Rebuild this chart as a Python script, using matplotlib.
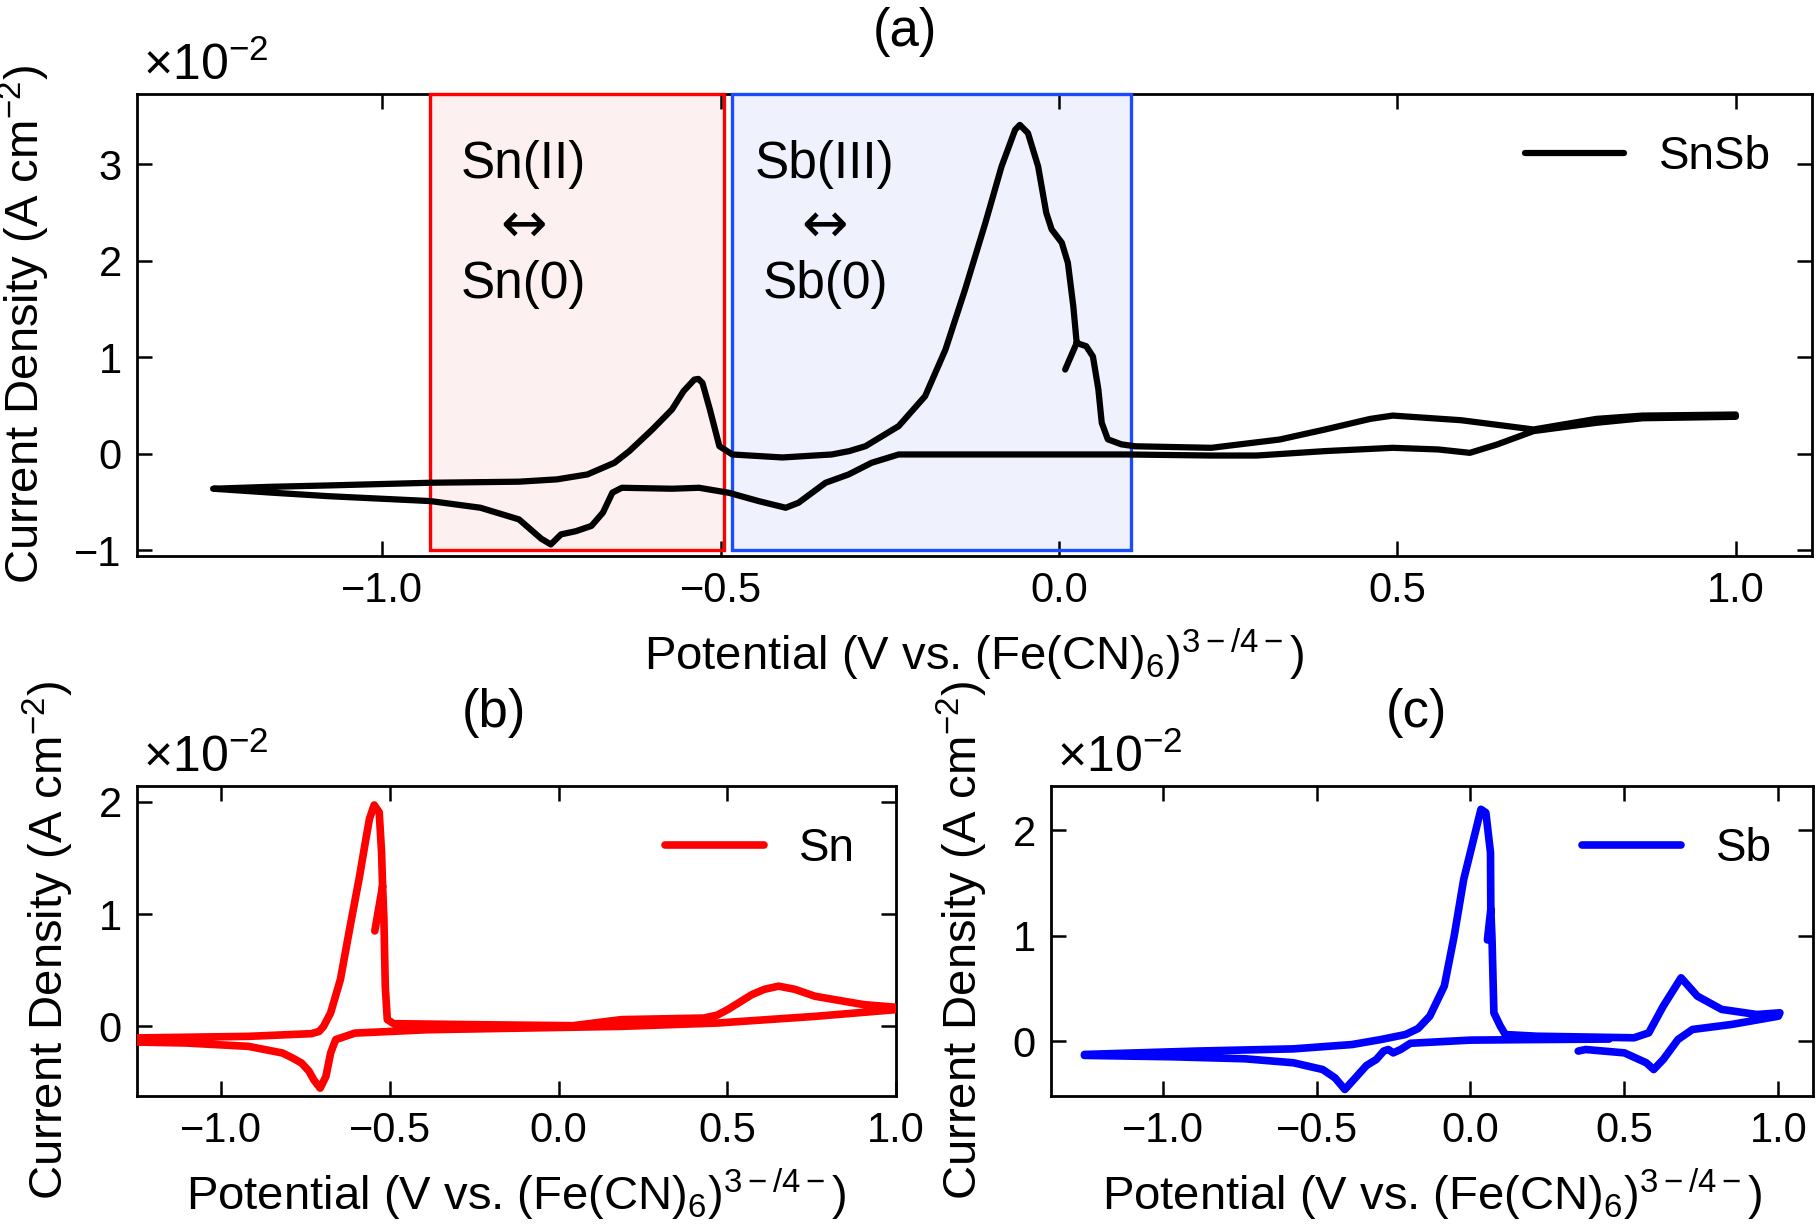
import numpy as np
import matplotlib
matplotlib.use('Agg')
import matplotlib.pyplot as plt
from matplotlib.patches import Rectangle
from matplotlib.ticker import MultipleLocator

plt.rcParams['font.family'] = ['Liberation Sans', 'DejaVu Sans']
plt.rcParams['mathtext.fontset'] = 'custom'
plt.rcParams['mathtext.rm'] = 'Liberation Sans'
plt.rcParams['mathtext.it'] = 'Liberation Sans:italic'
plt.rcParams['mathtext.bf'] = 'Liberation Sans:bold'
plt.rcParams['axes.linewidth'] = 2.0

# current density in units of 1e-2 A cm^-2, potential in V
# (a) SnSb: start tail + positive sweep, negative sweep, positive sweep back
snsb_up1_v = [0.009, 0.026, 0.040, 0.050, 0.058, 0.063, 0.072, 0.092, 0.112, 0.225, 0.326,
              0.393, 0.460, 0.493, 0.594, 0.701, 0.794, 0.862, 1.000]
snsb_up1_j = [0.875, 1.15, 1.117, 1.01, 0.67, 0.324, 0.152, 0.10, 0.08, 0.064, 0.150,
              0.254, 0.364, 0.398, 0.350, 0.254, 0.364, 0.398, 0.409]
snsb_down_v = [1.000, 0.862, 0.794, 0.701, 0.647, 0.607, 0.560, 0.493, 0.393, 0.292, 0.225,
               0.100, 0.000, -0.100, -0.188, -0.237, -0.277, -0.311, -0.345, -0.385, -0.404,
               -0.444, -0.488, -0.532, -0.572, -0.646, -0.660, -0.674, -0.691, -0.714, -0.736,
               -0.751, -0.765, -0.798, -0.855, -0.929, -1.080, -1.165, -1.250]
snsb_down_j = [0.385, 0.37, 0.323, 0.237, 0.098, 0.012, 0.047, 0.064, 0.030, -0.016, -0.016,
               -0.005, -0.005, -0.005, -0.005, -0.005, -0.091, -0.212, -0.298, -0.505, -0.557,
               -0.488, -0.402, -0.35, -0.36, -0.35, -0.40, -0.607, -0.745, -0.80, -0.833,
               -0.937, -0.879, -0.678, -0.557, -0.488, -0.437, -0.40, -0.36]
snsb_up2_v = [-1.250, -1.165, -1.080, -0.929, -0.798, -0.742, -0.697, -0.657, -0.635, -0.601,
              -0.572, -0.555, -0.539, -0.533, -0.527, -0.516, -0.502, -0.483, -0.409, -0.336,
              -0.310, -0.286, -0.237, -0.198, -0.168, -0.139, -0.109, -0.085, -0.065, -0.058,
              -0.046, -0.031, -0.019, -0.011, 0.004, 0.013, 0.021, 0.026]
snsb_up2_j = [-0.36, -0.34, -0.326, -0.298, -0.287, -0.263, -0.212, -0.091, 0.03, 0.254,
              0.461, 0.65, 0.771, 0.778, 0.737, 0.461, 0.081, -0.005, -0.036, -0.005,
              0.03, 0.081, 0.289, 0.599, 1.08, 1.703, 2.393, 2.98, 3.359, 3.41,
              3.325, 2.98, 2.50, 2.327, 2.189, 1.98, 1.53, 1.15]

# (b) Sn
sn_up1_v = [-0.545, -0.522, -0.518, -0.514, -0.508, -0.489, -0.245, 0.042, 0.186, 0.430,
            0.470, 0.501, 0.573, 0.610, 0.652, 0.700, 0.760, 0.903, 1.000]
sn_up1_j = [0.85, 1.25, 0.953, 0.358, 0.06, 0.024, 0.015, 0.006, 0.06, 0.074,
            0.10, 0.149, 0.283, 0.33, 0.358, 0.33, 0.268, 0.194, 0.17]
sn_down_v = [1.000, 0.760, 0.473, 0.186, -0.102, -0.389, -0.604, -0.661, -0.676, -0.690,
             -0.707, -0.726, -0.740, -0.762, -0.790, -0.819, -0.920, -1.106, -1.250]
sn_down_j = [0.149, 0.089, 0.03, 0.0, -0.015, -0.03, -0.06, -0.118, -0.237, -0.446,
             -0.55, -0.476, -0.40, -0.327, -0.28, -0.237, -0.178, -0.148, -0.14]
sn_up2_v = [-1.250, -0.920, -0.733, -0.710, -0.697, -0.676, -0.647, -0.618, -0.590, -0.575,
            -0.561, -0.547, -0.532, -0.525, -0.522]
sn_up2_j = [-0.103, -0.089, -0.065, -0.045, 0.0, 0.120, 0.418, 0.894, 1.34, 1.607,
            1.846, 1.971, 1.906, 1.55, 1.25]

# (c) Sb
sb_seg1_v = [0.055, 0.066, 0.070, 0.076, 0.097, 0.113, 0.215, 0.531, 0.579, 0.626,
             0.684, 0.737, 0.816, 0.930, 1.005, 1.000, 0.847, 0.721, 0.674, 0.626,
             0.595, 0.571, 0.500, 0.374, 0.350]
sb_seg1_j = [0.96, 1.25, 0.965, 0.269, 0.142, 0.063, 0.047, 0.032, 0.079, 0.332,
             0.601, 0.427, 0.301, 0.253, 0.269, 0.237, 0.158, 0.111, 0.016, -0.174,
             -0.269, -0.205, -0.111, -0.079, -0.094]
sb_down_v = [0.450, 0.200, 0.000, -0.195, -0.227, -0.251, -0.267, -0.282, -0.306, -0.338,
             -0.369, -0.408, -0.440, -0.480, -0.575, -0.733, -0.970, -1.254]
sb_down_j = [0.02, 0.015, 0.01, -0.02, -0.079, -0.111, -0.079, -0.094, -0.174, -0.231,
             -0.332, -0.458, -0.348, -0.269, -0.205, -0.167, -0.148, -0.135]
sb_up_v = [-1.254, -0.891, -0.575, -0.385, -0.290, -0.250, -0.211, -0.170, -0.132, -0.085,
           -0.053, -0.022, 0.010, 0.034, 0.050, 0.065, 0.066]
sb_up_j = [-0.126, -0.094, -0.073, -0.032, 0.016, 0.04, 0.063, 0.12, 0.238, 0.523,
           0.997, 1.535, 1.914, 2.199, 2.167, 1.788, 1.25]

# shaded redox windows (V)
sn_window = (-0.9295, -0.4954)
sb_window = (-0.483, 0.1068)

xlabel = r'Potential (V vs. (Fe(CN)$_6$)$^{3-/4-}$)'
ylabel = r'Current Density (A cm$^{-2}$)'

W, H = 1818, 1224
fig = plt.figure(figsize=(W / 100, H / 100), dpi=100)


def box(l, t, r, b):
    return [l / W, 1 - b / H, (r - l) / W, (b - t) / H]


ax_a = fig.add_axes(box(137, 94, 1812, 556))
ax_b = fig.add_axes(box(137, 786, 896, 1096))
ax_c = fig.add_axes(box(1051, 786, 1813, 1096))


def style(ax):
    ax.tick_params(direction='in', top=True, right=True, length=11, width=1.8,
                   labelsize=30, pad=11)
    ax.xaxis.set_major_locator(MultipleLocator(0.5))
    ax.yaxis.set_major_locator(MultipleLocator(1))
    ax.set_xlabel(xlabel, fontsize=34, labelpad=11)
    ax.set_ylabel(ylabel, fontsize=34, labelpad=16)
    ax.annotate(r'$\times10^{-2}$', xy=(0, 1), xycoords='axes fraction',
                xytext=(4, 3), textcoords='offset points', fontsize=36,
                ha='left', va='bottom')
    ax.legend(loc='upper right', frameon=False, fontsize=33,
              handlelength=2.15, handletextpad=0.76)


cat = np.concatenate

ax_a.plot(cat([snsb_up1_v, snsb_down_v, snsb_up2_v]),
          cat([snsb_up1_j, snsb_down_j, snsb_up2_j]),
          color='black', lw=4.5, solid_joinstyle='round', solid_capstyle='round',
          zorder=3, label='SnSb')
ax_a.set_xlim(-1.3625, 1.1125)
ax_a.set_ylim(-1.057, 3.73)

rect_bottom = -0.995
rect_top = 3.73
for (x0, x1), face, edge in [(sn_window, '#fdf0f0', '#ff0000'),
                             (sb_window, '#eff2fd', '#1a4bff')]:
    ax_a.add_patch(Rectangle((x0, rect_bottom), x1 - x0, rect_top - rect_bottom,
                             facecolor=face, edgecolor='none', zorder=0.5))
    ax_a.add_patch(Rectangle((x0, rect_bottom), x1 - x0, rect_top - rect_bottom,
                             fill=False, edgecolor=edge, lw=2.4, zorder=2.6,
                             clip_on=False))

for xc, top, bottom in [(-0.791, 'Sn(II)', 'Sn(0)'), (-0.346, 'Sb(III)', 'Sb(0)')]:
    ax_a.text(xc, 3.0, top, ha='center', va='center', fontsize=37)
    ax_a.text(xc, 2.36, '\u2194', ha='center', va='center', fontsize=40,
              family='DejaVu Sans')
    ax_a.text(xc, 1.76, bottom, ha='center', va='center', fontsize=37)

ax_b.plot(cat([sn_up1_v, sn_down_v, sn_up2_v]),
          cat([sn_up1_j, sn_down_j, sn_up2_j]),
          color='#ff0000', lw=5.5, solid_joinstyle='round', solid_capstyle='round',
          zorder=3, label='Sn')
ax_b.set_xlim(-1.25, 1.0)
ax_b.set_ylim(-0.62, 2.14)

ax_c.plot(cat([sb_seg1_v, [np.nan], sb_down_v, sb_up_v]),
          cat([sb_seg1_j, [np.nan], sb_down_j, sb_up_j]),
          color='#0000ff', lw=5.5, solid_joinstyle='round', solid_capstyle='round',
          zorder=3, label='Sb')
ax_c.set_xlim(-1.3625, 1.1125)
ax_c.set_ylim(-0.52, 2.42)

for ax in (ax_a, ax_b, ax_c):
    style(ax)

fig.text(905 / W, 1 - 32 / H, '(a)', ha='center', va='center', fontsize=38)
fig.text(494 / W, 1 - 713 / H, '(b)', ha='center', va='center', fontsize=38)
fig.text(1416 / W, 1 - 713 / H, '(c)', ha='center', va='center', fontsize=38)

fig.savefig('out.png', dpi=100)
